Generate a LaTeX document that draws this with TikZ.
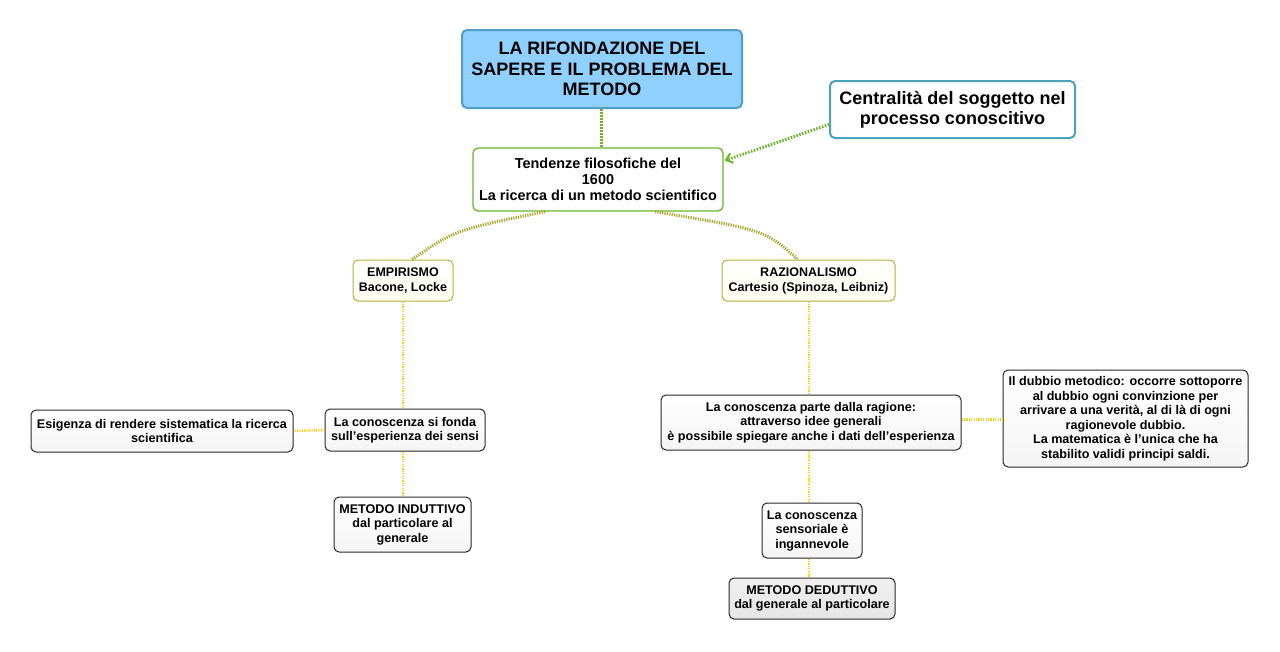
\documentclass[tikz,border=0pt]{standalone}
\usepackage{fontspec}
\setmainfont{Liberation Sans}
\usetikzlibrary{calc,arrows.meta}
\definecolor{titlefill}{RGB}{143,208,255}
\definecolor{titledraw}{RGB}{78,160,200}
\definecolor{tealdraw}{RGB}{75,163,184}
\definecolor{greendraw}{RGB}{106,180,44}
\definecolor{olivedraw}{RGB}{181,176,58}
\definecolor{olivelink}{RGB}{170,165,40}
\definecolor{yellowlink}{RGB}{245,208,30}
\definecolor{darkdraw}{RGB}{40,40,40}
\definecolor{greylight}{RGB}{240,240,240}
\tikzset{
  box/.style={rectangle, rounded corners=5pt, inner sep=0pt, align=center, line width=1pt,
    top color=white, bottom color=gray!8, draw=darkdraw,
    font=\bfseries\fontsize{12.6}{14.5}\selectfont},
  titlebox/.style={box, top color=titlefill, bottom color=titlefill, draw=titledraw, line width=2pt,
    font=\bfseries\fontsize{18}{20.5}\selectfont},
  centbox/.style={box, top color=white, bottom color=white, draw=tealdraw, line width=2pt,
    font=\bfseries\fontsize{18}{20}\selectfont},
  tendbox/.style={box, top color=white, bottom color=white, draw=greendraw, line width=1.3pt,
    font=\bfseries\fontsize{14.4}{16}\selectfont},
  schoolbox/.style={box, top color=white, bottom color=white!95!yellow, draw=olivedraw, line width=1pt,
    font=\bfseries\fontsize{12.5}{15}\selectfont},
  greenlink/.style={draw=greendraw, line width=3pt, dash pattern=on 1.5pt off 1.5pt},
  olink/.style={draw=olivelink, line width=3pt, dash pattern=on 1.2pt off 1.2pt},
  ylink/.style={draw=yellowlink, line width=2.5pt, dash pattern=on 1.2pt off 1.2pt},
}
\begin{document}
\begin{tikzpicture}[x=1pt,y=-1pt]
\useasboundingbox[fill=white] (0,0) rectangle (1280,651);

\node[titlebox, minimum width=280pt, minimum height=78pt] (title) at (602,69)
  {LA RIFONDAZIONE DEL\\SAPERE E IL PROBLEMA DEL\\METODO};
\node[centbox, minimum width=245pt, minimum height=57pt] (cent) at (952.5,109.5)
  {Centralità del soggetto nel\\processo conoscitivo};
\node[tendbox, minimum width=250pt, minimum height=63pt] (tend) at (598,179.5)
  {Tendenze filosofiche del\\1600\\La ricerca di un metodo scientifico};
\node[schoolbox, minimum width=100pt, minimum height=41pt] (emp) at (403,280.5)
  {EMPIRISMO\\Bacone, Locke};
\node[schoolbox, minimum width=173pt, minimum height=41pt] (raz) at (808.5,280.5)
  {RAZIONALISMO\\Cartesio (Spinoza, Leibniz)};
\node[box, minimum width=262pt, minimum height=42pt] (esig) at (162,431)
  {Esigenza di rendere sistematica la ricerca\\scientifica};
\node[box, minimum width=160pt, minimum height=42pt] (fonda) at (405,430)
  {La conoscenza si fonda\\sull’esperienza dei sensi};
\node[box, minimum width=137pt, minimum height=55pt] (ind) at (402.5,524.5)
  {METODO INDUTTIVO\\dal particolare al\\generale};
\node[box, minimum width=300pt, minimum height=55pt] (parte) at (811,422.5)
  {La conoscenza parte dalla ragione:\\attraverso idee generali\\è possibile spiegare anche i dati dell’esperienza};
\node[box, minimum width=245pt, minimum height=97pt] (dubbio) at (1125.5,418.5)
  {Il dubbio metodico: occorre sottoporre\\al dubbio ogni convinzione per\\arrivare a una verità, al di là di ogni\\ragionevole dubbio.\\La matematica è l’unica che ha\\stabilito validi principi saldi.};
\node[box, minimum width=100pt, minimum height=55pt] (sens) at (812,530.5)
  {La conoscenza\\sensoriale è\\ingannevole};
\node[box, top color=greylight, bottom color=greylight!90!gray, minimum width=166pt, minimum height=41pt] (ded) at (812,598.5)
  {METODO DEDUTTIVO\\dal generale al particolare};

% connectors
\draw[greenlink] (title.south -| 601,0) -- (tend.north -| 601,0);
\draw[greenlink, -{Straight Barb[length=6pt,width=10pt,line width=2pt]}] ($(cent.west)+(0,15)$) -- ($(tend.east)+(1,-19)$);
\draw[olink] ($(tend.south)+(-53,0)$) .. controls (455,230) .. (emp.north -| 412,0);
\draw[olink] ($(tend.south)+(57,0)$) .. controls (765,230) .. (raz.north -| 798,0);
\draw[ylink] (emp.south -| 403,0) -- (fonda.north -| 403,0);
\draw[ylink] (fonda.west) -- (esig.east);
\draw[ylink] (fonda.south -| 403,0) -- (ind.north -| 403,0);
\draw[ylink] (raz.south -| 809,0) -- (parte.north -| 809,0);
\draw[ylink] ($(parte.east)+(0,-3)$) -- ($(parte.east -| dubbio.west)+(0,-3)$);
\draw[ylink] (parte.south -| 809,0) -- (sens.north -| 809,0);
\draw[ylink] (sens.south -| 809,0) -- (ded.north -| 809,0);
\end{tikzpicture}
\end{document}
